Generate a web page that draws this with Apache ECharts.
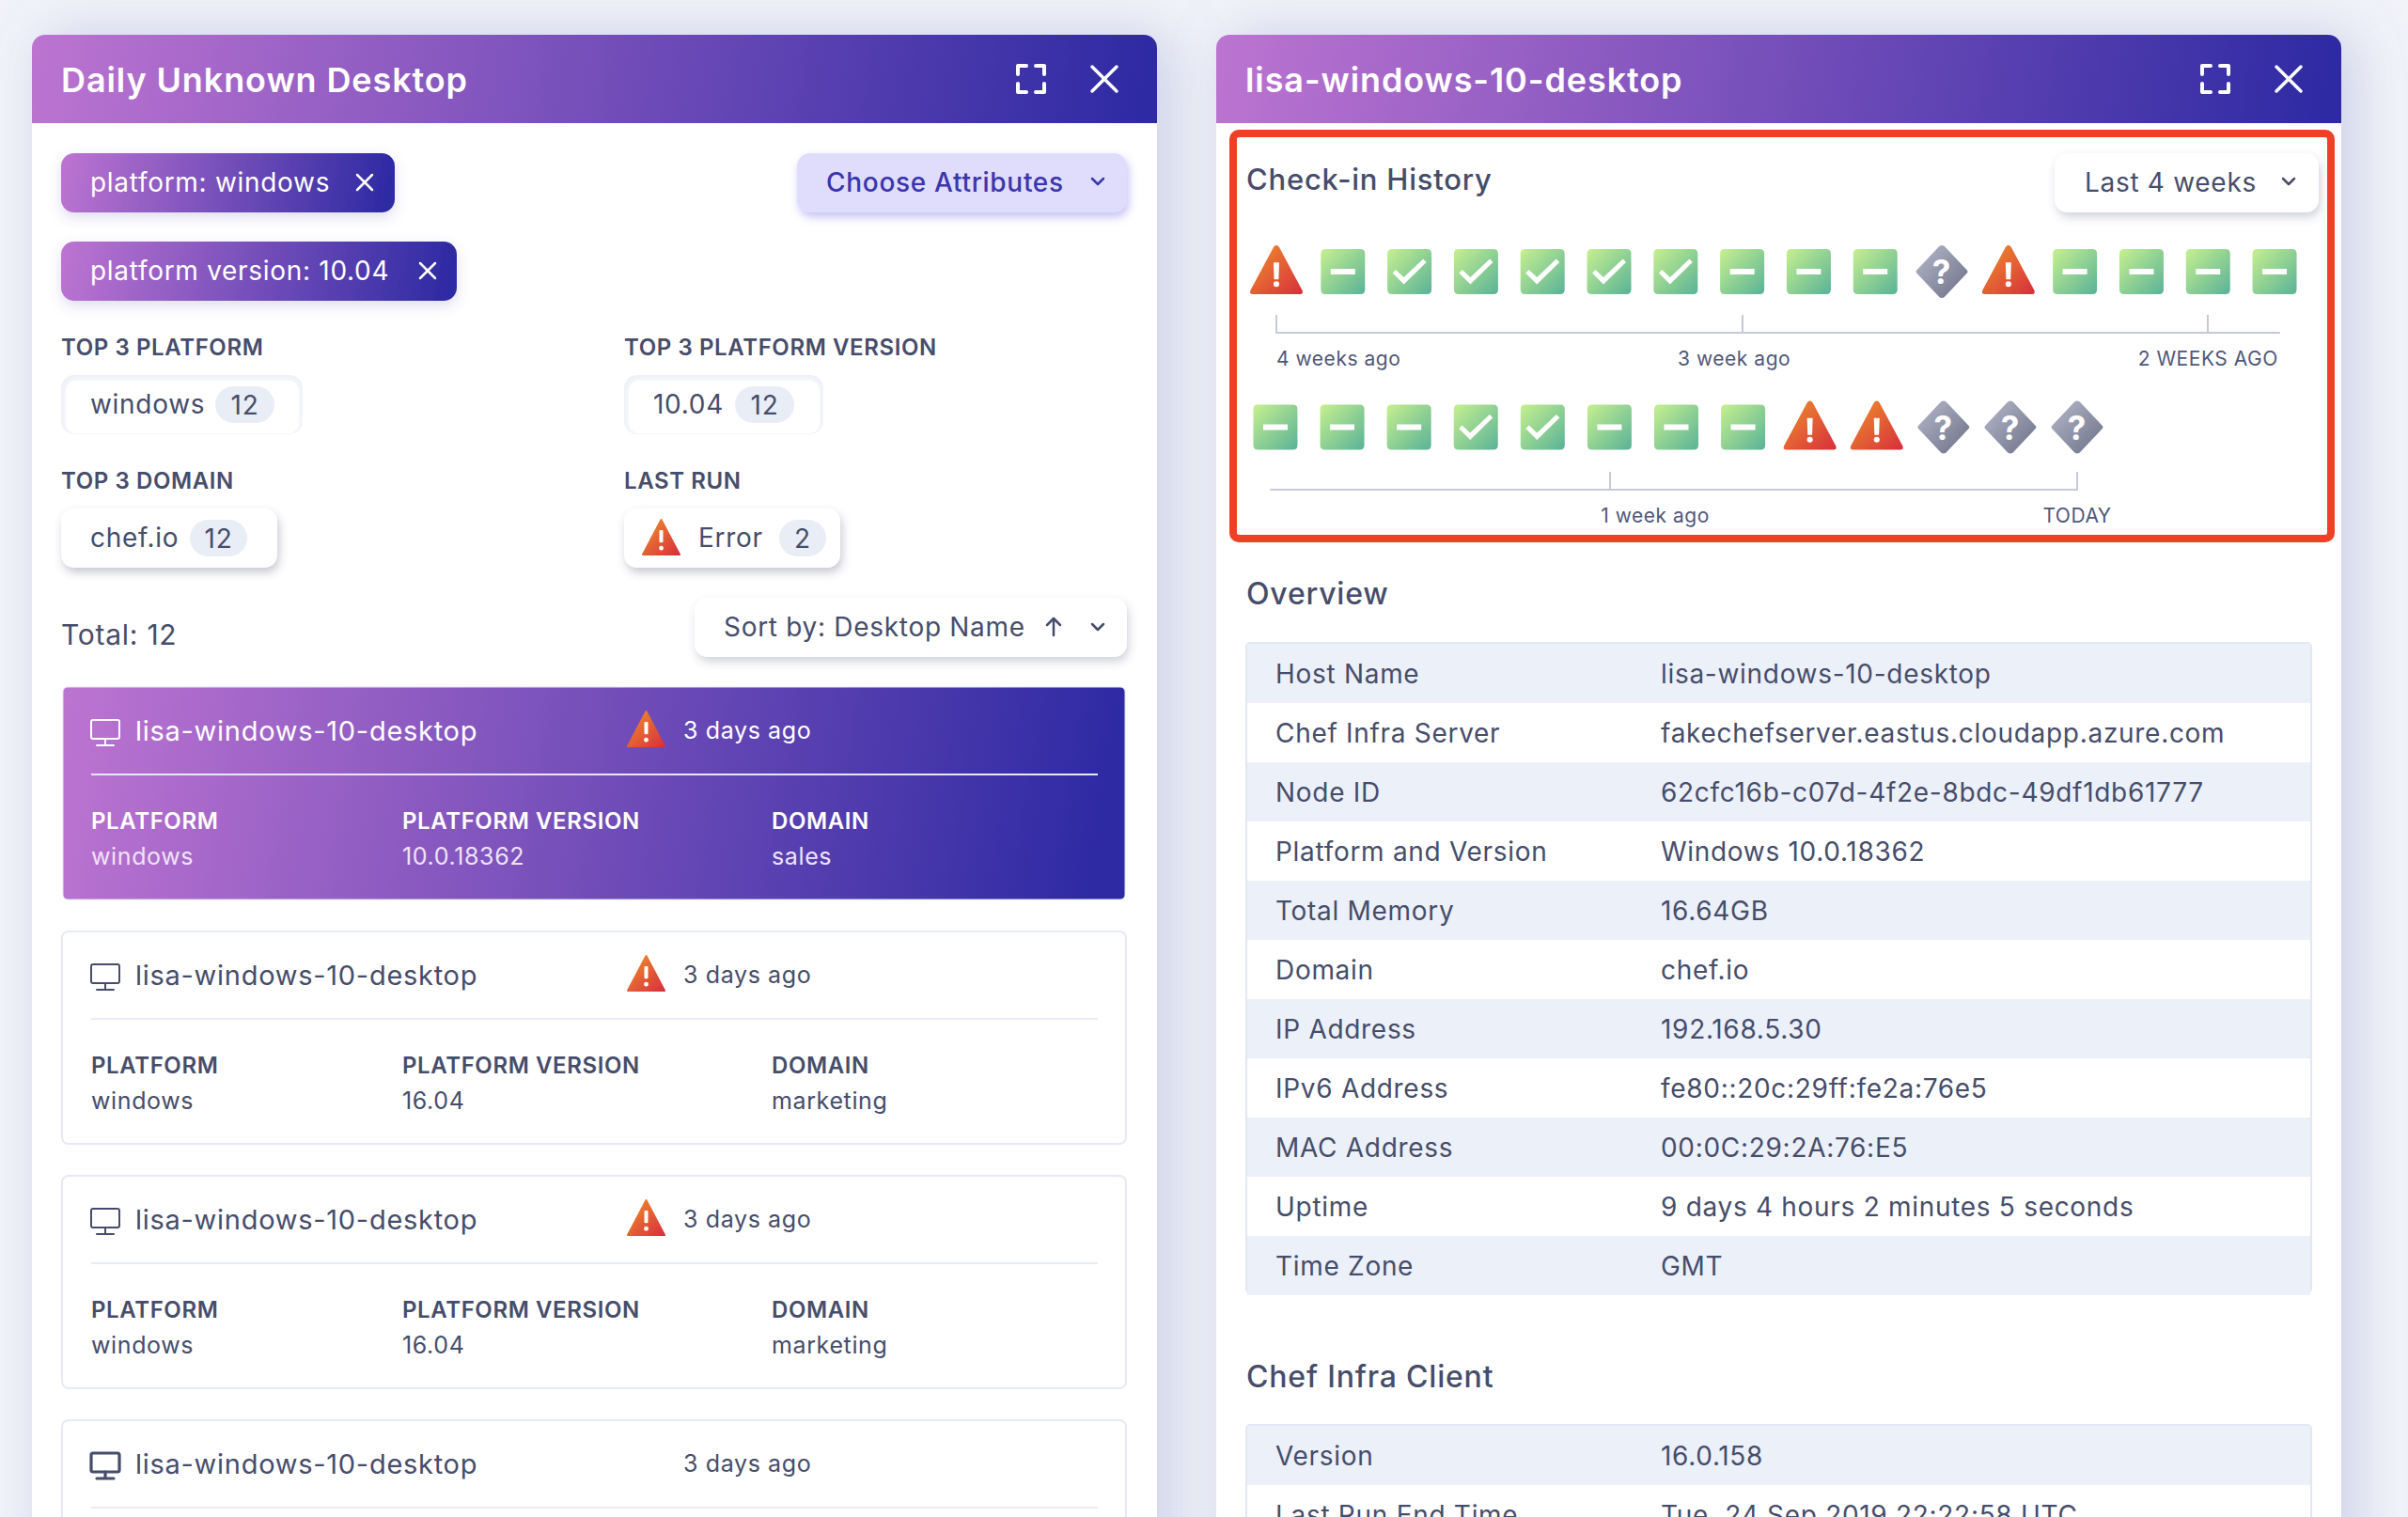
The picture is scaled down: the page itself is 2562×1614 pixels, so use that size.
<!DOCTYPE html>
<html>
<head>
<meta charset="utf-8">
<title>Check-in History</title>
<script src="https://cdn.jsdelivr.net/npm/echarts@6/dist/echarts.min.js"></script>
<style>
html, body { margin: 0; padding: 0; background: #f1f3f9; overflow: hidden; }
#main { width: 2562px; height: 1614px; }
#main text { letter-spacing: .025em; }
</style>
</head>
<body>
<div id="main"></div>
<script>
// check-in history, one status per day, day 0 is 4 weeks ago
var historyRow1 = ['failed', 'unchanged', 'converged', 'converged', 'converged', 'converged', 'converged', 'unchanged', 'unchanged', 'unchanged', 'missing', 'failed', 'unchanged', 'unchanged', 'unchanged', 'unchanged'];
var historyRow2 = ['unchanged', 'unchanged', 'unchanged', 'converged', 'converged', 'unchanged', 'unchanged', 'unchanged', 'failed', 'failed', 'missing', 'missing', 'missing'];
var row2FirstDay = 16;

var row1TickDays = [0, 7, 14];
var row1LabelDays = [0, 6.88, 14];
var row1Labels = ['4 weeks ago', '3 week ago', '2 WEEKS AGO'];
var row2TickDays = [21, 28];
var row2LabelDays = [20.87, 28];
var row2Labels = ['1 week ago', 'TODAY'];

var overviewLabels = ['Host Name', 'Chef Infra Server', 'Node ID', 'Platform and Version', 'Total Memory', 'Domain', 'IP Address', 'IPv6 Address', 'MAC Address', 'Uptime', 'Time Zone'];
var overviewValues = ['lisa-windows-10-desktop', 'fakechefserver.eastus.cloudapp.azure.com', '62cfc16b-c07d-4f2e-8bdc-49df1db61777', 'Windows 10.0.18362', '16.64GB', 'chef.io', '192.168.5.30', 'fe80::20c:29ff:fe2a:76e5', '00:0C:29:2A:76:E5', '9 days 4 hours 2 minutes 5 seconds', 'GMT'];
var clientLabels = ['Version', 'Last Run End Time'];
var clientValues = ['16.0.158', 'Tue, 24 Sep 2019 22:22:58 UTC'];

var cardHost = 'lisa-windows-10-desktop';
var cardAge = '3 days ago';
var cardVersions = ['10.0.18362', '16.04', '16.04'];
var cardDomains = ['sales', 'marketing', 'marketing'];

var FONT = 'Inter, "Noto Sans", sans-serif';
var TEXT = '#464d6a';
var SQUARE_PATH = 'path://M5 0L43 0Q48 0 48 5L48 43Q48 48 43 48L5 48Q0 48 0 43L0 5Q0 0 5 0Z';
var TRIANGLE_PATH = 'M28 0Q30 0 31 2L55.6 48Q57 52 53 52L3 52Q-1 52 .4 48L25 2Q26 0 28 0Z';
var DIAMOND_PATH = 'M25 1.2Q27.5 -.4 30 1.2L53.8 26Q56 28 53.8 30L30 54.8Q27.5 56.4 25 54.8L1.2 30Q-1 28 1.2 26Z';
var CHECK_PATH = 'M0 15L3.4 11.4L12 19.6L32.6 0L36 3.6L12 27Z';
var MARK_PATH = 'M0 0L6 0L5.4 18L.6 18ZM3 20A3 3 0 1 1 3 26A3 3 0 1 1 3 20Z';

function grad(c1, c2, x2, y2) {
    return new echarts.graphic.LinearGradient(0, 0, x2 === undefined ? 1 : x2, y2 === undefined ? 1 : y2, [
        {offset: 0, color: c1},
        {offset: 1, color: c2}
    ]);
}
function purple(w, h) {
    return grad('#bd74d1', '#2e2aa3', 1, .17 * h / w);
}
function failedFill() { return grad('#f0912c', '#d72f3c'); }

var els = [];
function rect(x, y, w, h, r, fill, extra) {
    var style = {fill: fill};
    for (var k in extra) style[k] = extra[k];
    els.push({type: 'rect', z: 1, silent: true, shape: {x: x, y: y, width: w, height: h, r: r}, style: style});
}
function txt(x, y, text, size, weight, color, align) {
    els.push({
        type: 'text', z: 3, silent: true,
        style: {
            x: x, y: y, text: text, fontSize: size, fontWeight: weight || 400, fontFamily: FONT,
            fill: color || TEXT, align: align || 'left', verticalAlign: 'middle'
        }
    });
}
function strokeLine(points, color, width) {
    els.push({
        type: 'polyline', z: 3, silent: true, shape: {points: points},
        style: {fill: 'none', stroke: color, lineWidth: width, lineCap: 'round', lineJoin: 'round'}
    });
}
function triangle(x, y, w, h) {
    // stroke with the same fill rounds the corners a little
    var fill = failedFill();
    els.push({
        type: 'polygon', z: 2, silent: true,
        shape: {points: [[x + w / 2, y + 1], [x + w - 1, y + h - 1], [x + 1, y + h - 1]]},
        style: {fill: fill, stroke: fill, lineWidth: 2, lineJoin: 'round'}
    });
    rect(x + w / 2 - 2, y + h * .31, 4, h * .34, 1, '#fff', {});
    els[els.length - 1].z = 3;
    els.push({type: 'circle', z: 3, silent: true, shape: {cx: x + w / 2, cy: y + h * .8, r: 2.4}, style: {fill: '#fff'}});
}
function chevron(x, y, color) {
    strokeLine([[x - 6, y - 3], [x, y + 3], [x + 6, y - 3]], color, 2.5);
}
function cross(x, y, s, color, width) {
    strokeLine([[x - s, y - s], [x + s, y + s]], color, width);
    strokeLine([[x + s, y - s], [x - s, y + s]], color, width);
}
function expandIcon(x, y) {
    strokeLine([[x, y + 9], [x, y], [x + 9, y]], '#fff', 4);
    strokeLine([[x + 19, y], [x + 28, y], [x + 28, y + 9]], '#fff', 4);
    strokeLine([[x + 28, y + 19], [x + 28, y + 28], [x + 19, y + 28]], '#fff', 4);
    strokeLine([[x + 9, y + 28], [x, y + 28], [x, y + 19]], '#fff', 4);
}
function panel(x, title) {
    rect(x, 37, 1197, 1700, [14, 14, 0, 0], '#fff', {shadowBlur: 60, shadowOffsetX: 14, shadowColor: 'rgba(120,130,185,.32)'});
    rect(x, 37, 1197, 94, [14, 14, 0, 0], purple(1197, 94));
    txt(x + 31, 85, title, 36, 600, '#fff');
    expandIcon(x + 1049, 70);
    cross(x + 1141, 84, 13, '#fff', 3.5);
}
function raisedButton(x, y, w, h, fill, shadow) {
    rect(x, y, w, h, 14, fill, {shadowBlur: 10, shadowOffsetX: 2, shadowOffsetY: 5, shadowColor: shadow});
}
function filterChip(x, y, w, label, crossX) {
    rect(x, y, w, 63, 14, purple(w, 63), {shadowBlur: 14, shadowOffsetY: 5, shadowColor: 'rgba(90,80,180,.2)'});
    txt(x + 31, y + 31, label, 28, 400, '#fff');
    cross(crossX, y + 31, 8, '#fff', 2.5);
}
function badge(x, y, w, value) {
    rect(x, y, w, 39, 19.5, '#e9edf6');
    txt(x + w / 2, y + 20, value, 28, 400, TEXT, 'center');
}
function insetPill(x, y, w, label, badgeX, value) {
    rect(x, y, w, 63, 14, '#eef0f7');
    rect(x + 5, y + 6, w - 9, 56, 11, '#fff', {shadowBlur: 9, shadowColor: '#fff'});
    txt(x + 31, y + 31, label, 28);
    badge(badgeX, y + 12, 63, value);
}
function card(y, selected, i) {
    var main = selected ? '#fff' : TEXT;
    if (selected) {
        rect(67, y, 1130, 226, 5, purple(1130, 226), {stroke: '#dfe3f2', lineWidth: 1});
    } else {
        rect(66, y, 1132, 226, 7, '#fff', {stroke: '#e6eaf5', lineWidth: 2});
    }
    // monitor icon
    var lw = i === 3 ? 3.2 : 2;
    els.push({
        type: 'rect', z: 3, silent: true,
        shape: {x: 97, y: y + 35, width: 30, height: 20, r: 2},
        style: {fill: 'none', stroke: main, lineWidth: lw}
    });
    strokeLine([[112, y + 55], [112, y + 61]], main, lw);
    strokeLine([[103, y + 62], [121, y + 62]], main, lw);
    txt(144, y + 46, cardHost, 29, 400, main);
    if (i < 3) triangle(667, y + 25, 41, 39);
    txt(727, y + 46, cardAge, 25, 400, main);
    rect(97, y + 92, 1071, 2, 0, selected ? '#e9e6fb' : '#e9ecf6');
    if (i < 3) {
        txt(97, y + 142, 'PLATFORM', 24, 600, main);
        txt(428, y + 142, 'PLATFORM VERSION', 24, 600, main);
        txt(821, y + 142, 'DOMAIN', 24, 600, main);
        txt(97, y + 180, 'windows', 25, 400, selected ? '#efe3f7' : TEXT);
        txt(428, y + 180, cardVersions[i], 25, 400, selected ? '#efe3f7' : TEXT);
        txt(821, y + 180, cardDomains[i], 25, 400, selected ? '#efe3f7' : TEXT);
    }
}
function infoTable(top, labels, values, bottom) {
    rect(1326, top, 1133, bottom - top, 4, '#fff', {stroke: '#e3e7f3', lineWidth: 2});
    for (var i = 0; i < labels.length; i++) {
        if (i % 2 === 0) rect(1327, top + 1 + i * 63, 1131, 63, i === 0 ? [3, 3, 0, 0] : 0, '#ecf0f9');
        txt(1357, top + 33 + i * 63, labels[i], 28);
        txt(1767, top + 33 + i * 63, values[i], 28);
    }
}

// left panel
panel(34, 'Daily Unknown Desktop');
filterChip(65, 163, 355, 'platform: windows', 388);
filterChip(65, 257, 421, 'platform version: 10.04', 455);
raisedButton(848, 163, 351, 63, '#dfddfb', 'rgba(110,100,230,.4)');
txt(879, 194, 'Choose Attributes', 28, 500, '#3b36ad');
chevron(1168, 193, '#3b36ad');
txt(65, 369, 'TOP 3 PLATFORM', 24, 600);
txt(664, 369, 'TOP 3 PLATFORM VERSION', 24, 600);
insetPill(65, 399, 257, 'windows', 229, '12');
insetPill(664, 399, 212, '10.04', 782, '12');
txt(65, 511, 'TOP 3 DOMAIN', 24, 600);
txt(664, 511, 'LAST RUN', 24, 600);
raisedButton(65, 541, 230, 63, '#fff', 'rgba(70,75,110,.3)');
txt(96, 572, 'chef.io', 28);
badge(202, 553, 61, '12');
raisedButton(664, 541, 230, 63, '#fff', 'rgba(70,75,110,.3)');
triangle(683, 552, 41, 39);
txt(743, 572, 'Error', 28);
badge(829, 553, 50, '2');
txt(65, 675, 'Total: 12', 30);
raisedButton(739, 636, 460, 63, '#fff', 'rgba(70,75,110,.25)');
txt(770, 667, 'Sort by: Desktop Name', 28);
strokeLine([[1121, 658], [1121, 676]], TEXT, 2.5);
strokeLine([[1114, 665], [1121, 658], [1128, 665]], TEXT, 2.5);
chevron(1168, 667, TEXT);
card(731, true, 0);
card(991, false, 1);
card(1251, false, 2);
card(1511, false, 3);

// right panel
panel(1294, 'lisa-windows-10-desktop');
txt(1326, 190, 'Check-in History', 31, 500);
raisedButton(2186, 163, 281, 63, '#fff', 'rgba(70,75,110,.25)');
txt(2218, 194, 'Last 4 weeks', 28);
chevron(2435, 193, TEXT);
txt(1326, 631, 'Overview', 32, 500);
infoTable(684, overviewLabels, overviewValues, 1375);
txt(1326, 1464, 'Chef Infra Client', 32, 500);
infoTable(1516, clientLabels, clientValues, 1700);

// red highlight around the history
els.push({
    type: 'rect', z: 4, silent: true,
    shape: {x: 1312, y: 142, width: 1168, height: 431, r: 6},
    style: {fill: 'none', stroke: '#ee4024', lineWidth: 8}
});

var statusStyles = {
    failed: {symbol: 'path://' + TRIANGLE_PATH, size: [56, 52], offset: [0, -2], fill: failedFill},
    unchanged: {symbol: SQUARE_PATH, size: [47, 48], offset: [0, 0], fill: function () { return grad('#c6f08f', '#5ab298'); }},
    converged: {symbol: SQUARE_PATH, size: [47, 48], offset: [0, 0], fill: function () { return grad('#c6f08f', '#5ab298'); }},
    missing: {symbol: 'path://' + DIAMOND_PATH, size: [55, 56], offset: [0, 0], fill: function () { return grad('#b6b9ca', '#6c7087'); }}
};
var glyphStyles = {
    failed: {symbol: 'path://' + MARK_PATH, size: [6, 26], offset: [0, 3.3]},
    unchanged: {symbol: 'rect', size: [26, 6], offset: [0, 0]},
    converged: {symbol: 'path://' + CHECK_PATH, size: [36, 27], offset: [0, 0]}
};

function daysWith(row, firstDay, status) {
    var out = [];
    for (var i = 0; i < row.length; i++) {
        if (row[i] === status) out.push([firstDay + i, 0]);
    }
    return out;
}

var series = [];
function addRow(row, firstDay, gridIndex) {
    Object.keys(statusStyles).forEach(function (status) {
        var s = statusStyles[status], data = daysWith(row, firstDay, status);
        series.push({
            type: 'scatter', name: status, xAxisIndex: gridIndex, yAxisIndex: gridIndex, z: 6, silent: true,
            symbol: s.symbol, symbolSize: s.size, symbolOffset: s.offset,
            itemStyle: {color: s.fill(), opacity: 1},
            label: status === 'missing' ? {
                show: true, position: 'inside', formatter: '?', color: '#fff',
                fontSize: 35, fontWeight: 700, fontFamily: FONT
            } : {show: false},
            data: data
        });
        var g = glyphStyles[status];
        if (g) {
            series.push({
                type: 'scatter', name: status + ' glyph', xAxisIndex: gridIndex, yAxisIndex: gridIndex, z: 7, silent: true,
                symbol: g.symbol, symbolSize: g.size, symbolOffset: g.offset,
                itemStyle: {color: '#fff', opacity: 1},
                data: data
            });
        }
    });
}
addRow(historyRow1, 0, 0);
addRow(historyRow2, row2FirstDay, 1);

function timeAxis(gridIndex, min, max, tickDays, labelDays, labels) {
    return {
        type: 'value', gridIndex: gridIndex, min: min, max: max, z: 5, silent: true,
        splitLine: {show: false},
        axisLine: {show: true, onZero: false, lineStyle: {color: '#c6cad7', width: 2}},
        axisTick: {show: true, inside: true, length: 19, customValues: tickDays, lineStyle: {color: '#c6cad7', width: 2}},
        axisLabel: {
            show: true, customValues: labelDays, margin: 17, fontSize: 21, fontFamily: FONT, color: '#50577a',
            alignMinLabel: 'left',
            formatter: function (v) { return labels[labelDays.indexOf(v)]; }
        }
    };
}
function hiddenY(gridIndex) {
    return {type: 'value', gridIndex: gridIndex, min: -1, max: 1, show: false};
}

var option = {
    animation: false,
    backgroundColor: '#f1f3f9',
    textStyle: {fontFamily: FONT},
    grid: [
        {left: 1358, width: 1067, top: 224, height: 130},
        {left: 1352, width: 858, top: 388, height: 133}
    ],
    xAxis: [
        timeAxis(0, 0, 15.07, row1TickDays, row1LabelDays, row1Labels),
        timeAxis(1, 15.93, 28, row2TickDays, row2LabelDays, row2Labels)
    ],
    yAxis: [hiddenY(0), hiddenY(1)],
    graphic: {elements: els},
    series: series
};

var chart = echarts.init(document.getElementById('main'), null, {renderer: 'svg'});
chart.setOption(option);
</script>
</body>
</html>
